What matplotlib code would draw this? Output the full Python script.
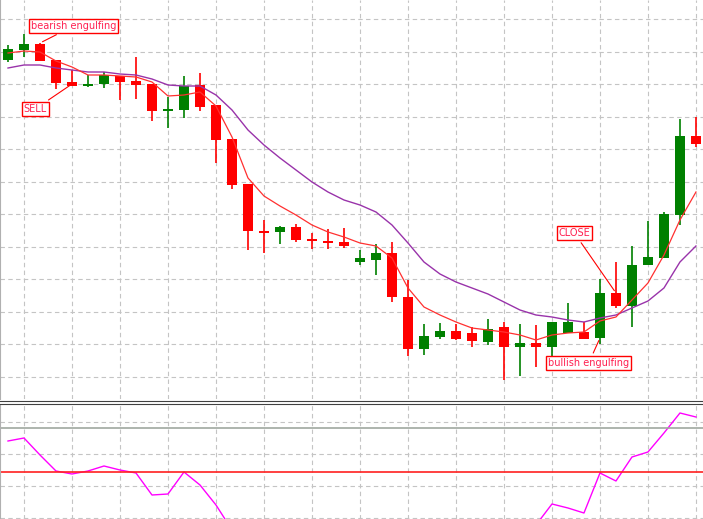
import matplotlib
matplotlib.use("Agg")
import matplotlib.pyplot as plt
from matplotlib.lines import Line2D
import numpy as np

# price values in screen units (larger = lower price; axis inverted)
opens  = [60,50,44,60,82,86,84,76,81,84,111,110,85,105,139,184,231,232,227,239,241,242,262,260,253,297,349,337,331,333,342,327,347,343,347,333,332,338,293,306,265,258,215,136]
closes = [49,44,61,83,86,84,75,82,85,111,109,86,107,140,185,231,233,227,240,241,243,246,258,253,297,349,336,331,339,341,329,347,343,347,322,322,339,293,306,265,257,214,136,144]
highs  = [45,34,43,60,70,75,72,76,57,84,97,76,73,105,139,184,220,226,224,233,229,228,250,244,242,280,324,323,324,327,319,322,324,325,322,303,322,279,262,246,221,212,119,117]
lows   = [62,57,61,89,86,87,88,100,99,121,128,118,111,163,189,250,253,244,242,249,249,248,265,275,302,356,355,339,340,347,345,380,376,367,363,333,339,344,308,327,265,258,225,147]
fast_ma = [53,51,52,61,67,75,75,76,77,82,96,95,92,106,137,178,196,206,215,225,232,237,243,246,258,288,307,315,322,328,330,332,335,340,335,333,332,321,317,300,283,255,220,192]
slow_ma = [68,65,65,68,70,72,72,74,75,79,85,86,86,95,110,130,145,158,170,182,192,200,205,212,225,243,262,274,282,288,294,302,310,315,317,320,322,318,315,308,301,288,262,246]
osc = [441,438,455,471,474,471,466,470,473,495,494,472,485,505,530,540,540,540,540,540,540,540,540,540,540,540,540,540,540,540,540,540,530,525,504,508,513,473,481,457,452,433,413,417]
osc_hi, osc_lo = 428, 472

W, H = 703, 519
fig = plt.figure(figsize=(W/100, H/100), dpi=100)
fig.patch.set_facecolor("white")
ax = fig.add_axes([0, (H-399)/H, 1, 399/H])
ax2 = fig.add_axes([0, 0, 1, (H-405)/H])

n = len(opens)
x = np.arange(n)
grid_kw = dict(color="#c4c4c4", linestyle=(0, (4, 3)), linewidth=0.8)
for a in (ax, ax2):
    a.set_xlim(-0.5, 43.44)
    a.set_xticks(np.arange(1, 44, 3))
    a.tick_params(length=0, labelbottom=False, labelleft=False)
    a.grid(True, **grid_kw)
    a.set_axisbelow(True)
    for s in a.spines.values():
        s.set_visible(False)
    a.spines["left"].set_visible(True); a.spines["left"].set_color("#b0b0b0")

ax.set_ylim(399, 0)
ax.set_yticks(np.arange(19, 399, 32.5))
for i in range(n):
    o, c, h, l = opens[i], closes[i], highs[i], lows[i]
    col = "#008000" if c < o else "#ff0000"
    ax.vlines(i, h, l, color=col, linewidth=1.2, zorder=2)
    top, bot = min(o, c), max(o, c)
    ax.bar(i, max(bot-top, 1.5), bottom=top, width=0.68, color=col, zorder=3)
ax.plot(x, slow_ma, color="#9933aa", lw=1, zorder=4)
ax.plot(x, fast_ma, color="#ff3030", lw=0.9, zorder=4)

tc = "#ff2050"
box = dict(boxstyle="square,pad=0.2", fc="white", ec="#ff0000", lw=1)
def note(txt, xy, xt):
    ax.annotate(txt, xy=xy, xytext=xt, fontsize=7, color=tc, ha="center", va="center",
                bbox=box, arrowprops=dict(arrowstyle="-", color="#ff0000", lw=0.8), zorder=6)
note("bearish engulfing", (2, 43), (4.1, 26))
note("SELL", (4, 84), (1.7, 109))
note("CLOSE", (38, 293), (35.4, 233))
note("bullish engulfing", (37, 338), (36.3, 363))

ax2.set_ylim(519, 405)
ax2.set_yticks([422, 454, 486, 518])
ax2.plot(x, osc, color="#ff00ff", lw=1)
ax2.axhline(osc_hi, color="#a0a8a0", lw=1.2)
ax2.axhline(osc_lo, color="#ff2020", lw=1.2)

fig.add_artist(Line2D([0, 1], [1-400.5/H]*2, color="#404040", lw=0.8))
fig.add_artist(Line2D([0, 1], [1-403.5/H]*2, color="#404040", lw=0.8))
fig.savefig("out.png", dpi=100)
